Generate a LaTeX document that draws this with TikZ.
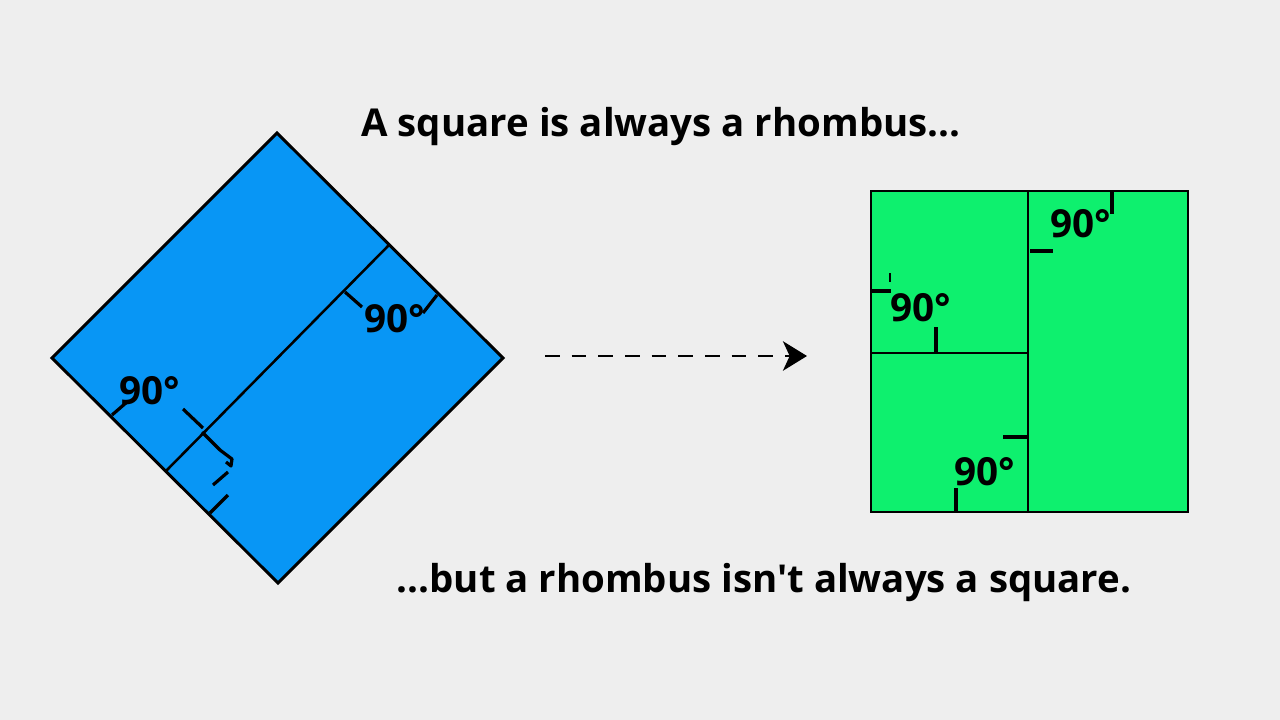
\documentclass[tikz,border=0pt]{standalone}
\usepackage{fontspec}
\newfontfamily\capfont{Open Sans}[BoldFont={* Bold}]
\usetikzlibrary{arrows.meta}
\definecolor{bg}{RGB}{238,238,238}
\definecolor{sqblue}{RGB}{8,150,245}
\definecolor{sqgreen}{RGB}{14,240,110}
\begin{document}
\begin{tikzpicture}[x=0.75pt,y=-0.75pt,
  outline/.style={draw=black,line width=2.2pt,line join=miter},
  divider/.style={draw=black,line width=1.9pt},
  tick/.style={draw=black,line width=2.4pt},
  thintick/.style={draw=black,line width=1pt},
  caption/.style={font=\capfont\bfseries\fontsize{28.8}{32}\selectfont,text=black,inner sep=0pt,anchor=base},
  anglabel/.style={font=\capfont\bfseries\fontsize{29}{32}\selectfont,text=black,inner sep=0pt},
  flow/.style={draw=black,line width=2.2pt,dash pattern=on 11pt off 9pt,-{Stealth[length=18pt,width=22pt,inset=5pt]}},
]
\path[fill=bg] (0,0) rectangle (1280,720);
\useasboundingbox (0,0) rectangle (1280,720);

% captions
\node[caption] (top) at (661,137) {A square is always a rhombus...};
\node[caption] (bottom) at (764,592) {...but a rhombus isn't always a square.};

% blue diamond
\coordinate (bT) at (277,133);
\coordinate (bR) at (503,358);
\coordinate (bB) at (278,583);
\coordinate (bL) at (52,358);
\coordinate (d1) at (389,245);
\coordinate (d2) at (166,471);
\path[fill=sqblue] (bT) -- (bR) -- (bB) -- (bL) -- cycle;
\draw[divider] (d1) -- (d2);
\draw[tick] (345,292) -- (362,307);
\draw[tick] (437,295) -- (423,313);
\draw[tick] (112,415) -- (127,402);
\draw[tick] (183,409) -- (203,428);
\draw[tick,line join=round] (202,432) -- (220,450) -- (232,459) -- (231,466) -- (226,462);
\draw[tick] (213,485) -- (228,472);
\draw[tick] (210,513) -- (228,495);
\draw[outline] (bT) -- (bR) -- (bB) -- (bL) -- cycle;
\node[anglabel] (bl1) at (395,319) {90°};
\node[anglabel] (bl2) at (150,391) {90°};

% arrow
\coordinate (aS) at (545,356);
\coordinate (aE) at (807,356);
\draw[flow] (aS) -- (aE);

% green square
\coordinate (gA) at (871,191);
\coordinate (gB) at (1188,512);
\coordinate (gV1) at (1028,191);
\coordinate (gV2) at (1028,512);
\coordinate (gH1) at (871,353);
\coordinate (gH2) at (1028,353);
\path[fill=sqgreen] (gA) rectangle (gB);
\draw[divider] (gV1) -- (gV2);
\draw[divider] (gH1) -- (gH2);
\draw[tick] (1112,191) -- (1112,214);
\draw[tick] (1030,251) -- (1053,251);
\draw[tick] (871,291) -- (891,291);
\draw[thintick] (890,273) -- (890,282);
\draw[tick] (936,327) -- (936,353);
\draw[tick] (1003,437) -- (1028,437);
\draw[tick] (956,488) -- (956,512);
\draw[outline] (gA) rectangle (gB);
\node[anglabel] (gl1) at (1081,224) {90°};
\node[anglabel] (gl2) at (921,308) {90°};
\node[anglabel] (gl3) at (985,472) {90°};
\end{tikzpicture}
\end{document}
